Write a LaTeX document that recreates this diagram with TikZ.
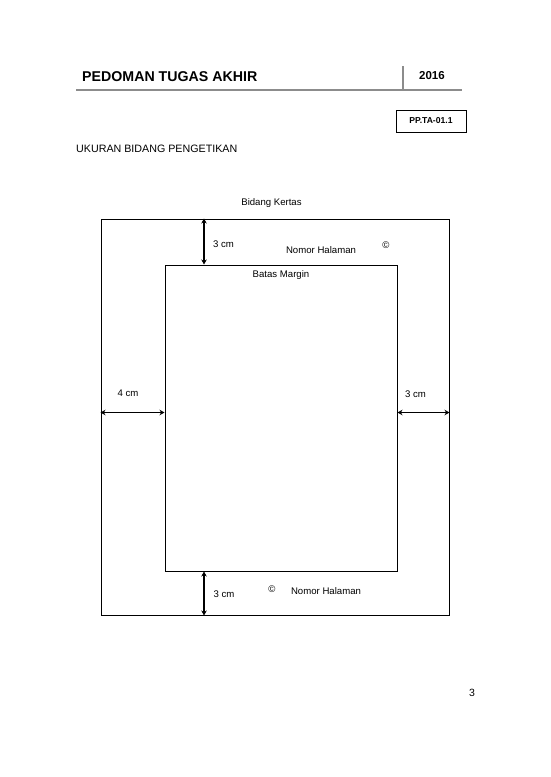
\documentclass[tikz,border=0pt]{standalone}
\usepackage{fontspec}
\setmainfont{Liberation Sans}
\usetikzlibrary{arrows.meta}
\begin{document}
\begin{tikzpicture}[x=1pt,y=-1pt,
  frame/.style={draw, line width=1pt, inner sep=0pt},
  dim/.style={line width=1.2pt, {Stealth[length=5pt,width=5.5pt]}-{Stealth[length=5pt,width=5.5pt]}},
  lbl/.style={font=\fontsize{9.6}{11}\selectfont, inner sep=0pt},
  hdr/.style={draw=black!45, line width=2pt}]
\useasboundingbox (0,0) rectangle (550,777);
% header
\node[anchor=west, inner sep=0pt, font=\fontsize{14.2}{17}\selectfont\bfseries] (title) at (82,77) {PEDOMAN TUGAS AKHIR};
\node[anchor=west, inner sep=0pt, font=\fontsize{11.5}{14}\selectfont\bfseries] (year) at (419,76) {2016};
\coordinate (hl) at (76,90);
\coordinate (hr) at (462,90);
\coordinate (vt) at (403,66);
\draw[hdr] (hl) -- (hr);
\draw[draw=black!45, line width=1.6pt] (vt) -- (vt |- hl);
\node[draw, line width=0.9pt, minimum width=70pt, minimum height=22pt, inner sep=0pt, font=\fontsize{8.6}{10}\selectfont\bfseries] (code) at (431,121) {PP.TA-01.1};
\node[anchor=west, inner sep=0pt, font=\fontsize{10.7}{13}\selectfont] (sec) at (76,149) {UKURAN BIDANG PENGETIKAN};
% frames
\node[frame, minimum width=348pt, minimum height=396pt] (outer) at (275,417) {};
\node[frame, minimum width=232pt, minimum height=306pt] (inner) at (281,418) {};
\node[lbl] (bk) at (271.5,203) {Bidang Kertas};
\node[lbl] (bm) at (281,275) {Batas Margin};
% dimension arrows
\coordinate (ax) at (204,0);
\coordinate (ay) at (0,412.5);
\draw[dim] (outer.north -| ax) -- (inner.north -| ax);
\draw[dim] (inner.south -| ax) -- (outer.south -| ax);
\draw[dim] (outer.west |- ay) -- (inner.west |- ay);
\draw[dim] (inner.east |- ay) -- (outer.east |- ay);
\node[lbl] (t3) at (223.5,244.5) {3 cm};
\node[lbl] (b3) at (224,594) {3 cm};
\node[lbl] (l4) at (128,393) {4 cm};
\node[lbl] (r3) at (415.5,394) {3 cm};
\node[lbl] (nh1) at (321,250) {Nomor Halaman};
\node[lbl] (c1) at (386,245) {©};
\node[lbl] (c2) at (272,589) {©};
\node[lbl] (nh2) at (326,591) {Nomor Halaman};
\node[inner sep=0pt, font=\fontsize{10.5}{12}\selectfont] (pg) at (472,693) {3};
\end{tikzpicture}
\end{document}
